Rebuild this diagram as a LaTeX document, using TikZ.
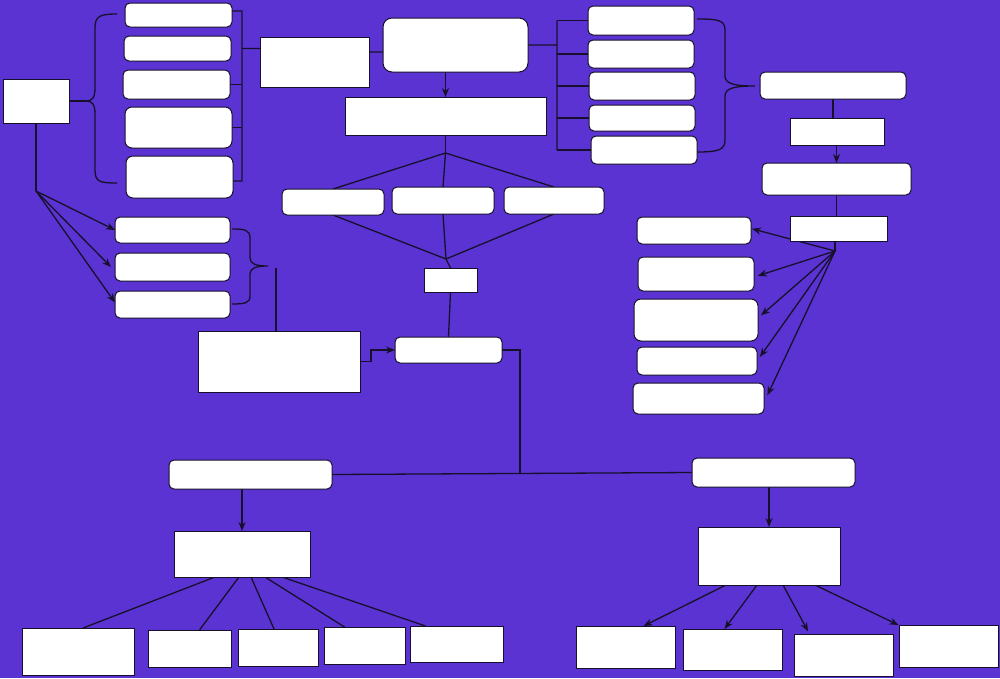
\documentclass[tikz,border=0pt]{standalone}
\usepackage{tikz}
\usetikzlibrary{arrows.meta,backgrounds}
\definecolor{bgpurple}{RGB}{91,51,210}
\definecolor{inkline}{RGB}{22,16,44}
\tikzstyle{rb} = [rectangle, draw=inkline, fill=white, line width=1pt,
    rounded corners=5pt, inner sep=0pt, outer sep=0pt]
\tikzstyle{sb} = [rectangle, draw=inkline, fill=white, line width=1pt,
    inner sep=0pt, outer sep=0pt]
\tikzstyle{ln} = [draw=inkline, line width=1.3pt]

\begin{document}
\begin{tikzpicture}[x=1pt,y=-1pt,>={Stealth[length=9pt,width=7pt]}]
  \useasboundingbox (0,0) rectangle (1000,678);
  % left block
  \node[sb,minimum width=66pt,minimum height=44pt]  (l0) at (36,101) {};
  \node[rb,minimum width=107pt,minimum height=24pt] (a1) at (178.5,15) {};
  \node[rb,minimum width=107pt,minimum height=25pt] (a2) at (177.5,48.5) {};
  \node[rb,minimum width=107pt,minimum height=29pt] (a3) at (176.5,84.5) {};
  \node[rb,minimum width=107pt,minimum height=41pt,rounded corners=7pt] (a4) at (178.5,127.5) {};
  \node[rb,minimum width=107pt,minimum height=42pt,rounded corners=7pt] (a5) at (179.5,177) {};
  \node[sb,minimum width=109pt,minimum height=50pt] (b)  at (314.5,62) {};
  \node[rb,minimum width=145pt,minimum height=54pt,rounded corners=9pt] (c) at (455.5,45) {};
  \node[rb,minimum width=115pt,minimum height=26pt] (k1) at (172.5,230) {};
  \node[rb,minimum width=115pt,minimum height=28pt] (k2) at (172.5,267) {};
  \node[rb,minimum width=115pt,minimum height=27pt] (k3) at (172.5,304.5) {};
  \node[sb,minimum width=162pt,minimum height=61pt] (n)  at (279,361.5) {};
  % upper right
  \node[rb,minimum width=106pt,minimum height=29pt] (r1) at (641,20.5) {};
  \node[rb,minimum width=106pt,minimum height=28pt] (r2) at (641,54) {};
  \node[rb,minimum width=106pt,minimum height=28pt] (r3) at (642,86) {};
  \node[rb,minimum width=106pt,minimum height=26pt] (r4) at (642,118) {};
  \node[rb,minimum width=106pt,minimum height=28pt] (r5) at (644,150) {};
  \node[rb,minimum width=146pt,minimum height=27pt] (d)  at (833,85.5) {};
  \node[sb,minimum width=94pt,minimum height=27pt]  (e)  at (837,131.5) {};
  \node[rb,minimum width=149pt,minimum height=32pt] (f)  at (836.5,179) {};
  \node[sb,minimum width=97pt,minimum height=25pt]  (g)  at (838.5,228.5) {};
  \node[rb,minimum width=114pt,minimum height=27pt] (h1) at (694,230.5) {};
  \node[rb,minimum width=116pt,minimum height=34pt] (h2) at (696,274) {};
  \node[rb,minimum width=124pt,minimum height=42pt,rounded corners=7pt] (h3) at (696,320) {};
  \node[rb,minimum width=120pt,minimum height=28pt] (h4) at (697,361) {};
  \node[rb,minimum width=131pt,minimum height=31pt] (h5) at (698.5,398.5) {};
  % centre
  \node[sb,minimum width=201pt,minimum height=38pt] (m)  at (445.5,116) {};
  \node[rb,minimum width=102pt,minimum height=26pt] (p1) at (333,202) {};
  \node[rb,minimum width=102pt,minimum height=27pt] (p2) at (443,200.5) {};
  \node[rb,minimum width=100pt,minimum height=27pt] (p3) at (554,200.5) {};
  \node[sb,minimum width=53pt,minimum height=24pt]  (q)  at (450.5,280) {};
  \node[rb,minimum width=107pt,minimum height=26pt] (s)  at (448.5,350) {};
  % bottom
  \node[rb,minimum width=163pt,minimum height=29pt] (t1) at (250.5,474.5) {};
  \node[rb,minimum width=163pt,minimum height=29pt] (t2) at (773.5,472.5) {};
  \node[sb,minimum width=136pt,minimum height=46pt] (u1) at (242,554) {};
  \node[sb,minimum width=112pt,minimum height=47pt] (v1) at (78,651.5) {};
  \node[sb,minimum width=83pt,minimum height=37pt]  (v2) at (189.5,648.5) {};
  \node[sb,minimum width=80pt,minimum height=37pt]  (v3) at (278,647.5) {};
  \node[sb,minimum width=81pt,minimum height=37pt]  (v4) at (364.5,645.5) {};
  \node[sb,minimum width=93pt,minimum height=36pt]  (v5) at (456.5,644) {};
  \node[sb,minimum width=142pt,minimum height=58pt] (w)  at (769,556) {};
  \node[sb,minimum width=99pt,minimum height=42pt]  (x1) at (625.5,647) {};
  \node[sb,minimum width=99pt,minimum height=41pt]  (x2) at (732.5,649.5) {};
  \node[sb,minimum width=99pt,minimum height=42pt]  (x3) at (843.5,655) {};
  \node[sb,minimum width=99pt,minimum height=42pt]  (x4) at (948.5,646) {};

  \coordinate (ltip) at (86,101);
  \coordinate (lfan) at (36,191);
  \coordinate (abar) at (242,0);
  \coordinate (rbar) at (557,0);
  \coordinate (ktip) at (276,268);
  \coordinate (mfork) at (445.5,153);
  \coordinate (mjoin) at (446,259);
  \coordinate (tjoin) at (520,473.5);
  \coordinate (gfan) at (835,251);

  \begin{scope}[on background layer]
  \fill[bgpurple] (0,0) rectangle (1000,678);
  \path[ln]
  % braces
  (117,14) .. controls (100,14) and (95,16) .. (95,28) -- (95,88)
    .. controls (95,98) and (92,101) .. (ltip) .. controls (92,101) and (95,104) .. (95,114)
    -- (95,170) .. controls (95,182) and (100,183) .. (117,183)
  (697,19) .. controls (718,19) and (725,20) .. (725,30) -- (725,76)
    .. controls (725,84) and (735,86) .. (755,86) .. controls (735,86) and (725,88) .. (725,96)
    -- (725,140) .. controls (725,150) and (718,152) .. (697,152)
  (232,229) .. controls (245,229) and (250,230) .. (250,238) -- (250,258)
    .. controls (250,264) and (256,266) .. (268,266) .. controls (256,266) and (250,268) .. (250,274)
    -- (250,296) .. controls (250,303) and (245,304) .. (232,304)
  % brackets
  ([yshift=4pt]a1.east) -| ([yshift=-4pt]a5.east -| abar) -- ([yshift=-4pt]a5.east)
  (a2.east -| abar) -- (a2.east -| b.west)
  (r1.west -| rbar) -- (r5.west -| rbar)
  (c.east) -- (c.east -| rbar)
  ([yshift=10pt]b.east) -- ([yshift=10pt]b.east -| c.west);
  \foreach \n in {a3,a4} \draw[ln] (\n.east) -- (\n.east -| abar);
  \foreach \n in {r1,r2,r3,r4,r5} \draw[ln] (\n.west -| rbar) -- (\n.west);

  \draw[ln] (l0.east) -- (ltip);
  \draw[ln] (l0.south) -- (lfan);
  \draw[ln,->] (lfan) -- (k1.west);
  \draw[ln,->] (lfan) -- ([xshift=-4pt]k2.west);
  \draw[ln,->] (lfan) -- ([yshift=2pt]k3.west);
  \draw[ln] (ktip) -- (ktip |- n.north);
  \draw[ln,->] (n.east) -- ++(11,0) |- (s.west);

  \draw[ln,->] (m.north |- c.south) -- (m.north);
  \draw[ln] (m.south) -- (mfork);
  \foreach \n in {p1,p2,p3} \draw[ln] (mfork) -- (\n.north) (\n.south) -- (mjoin);
  \draw[ln] (mjoin) -- (q.north) (q.south) -- (s.north);
  \draw[ln] (s.east) -| (tjoin);
  \draw[ln] (t1.east) -- (t2.west);

  \draw[ln] (d.south) -- (d.south |- e.north);
  \draw[ln,->] (f.north |- e.south) -- (f.north);
  \draw[ln] (f.south) -- (f.south |- g.north);
  \draw[ln] (gfan |- g.south) -- (gfan);
  \draw[ln,->,shorten >=1pt] (gfan) -- ([yshift=2pt]h1.east);
  \draw[ln,->,shorten >=4pt] (gfan) -- ([yshift=-3pt]h2.east);
  \draw[ln,->,shorten >=4pt] (gfan) -- ([yshift=2pt]h3.east);
  \draw[ln,->,shorten >=5pt] (gfan) -- (h4.east);
  \draw[ln,->,shorten >=8pt] (gfan) -- ([yshift=-4pt]h5.east);

  \draw[ln,->] (u1.north |- t1.south) -- (u1.north);
  \foreach \a/\t/\b in {-27/v1/5,-3/v2/10,9/v3/-4,23/v4/-20,40/v5/-31}
    \draw[ln] ([xshift=\a pt]u1.south) -- ([xshift=\b pt]\t.north);
  \draw[ln,->] (w.north |- t2.south) -- (w.north);
  \foreach \a/\t/\b/\s in {-43/x1/18/0,-12/x2/-8/0,14/x3/-34/3,46/x4/-50/0}
    \draw[ln,->,shorten >=\s pt] ([xshift=\a pt]w.south) -- ([xshift=\b pt]\t.north);
  \end{scope}
\end{tikzpicture}
\end{document}
